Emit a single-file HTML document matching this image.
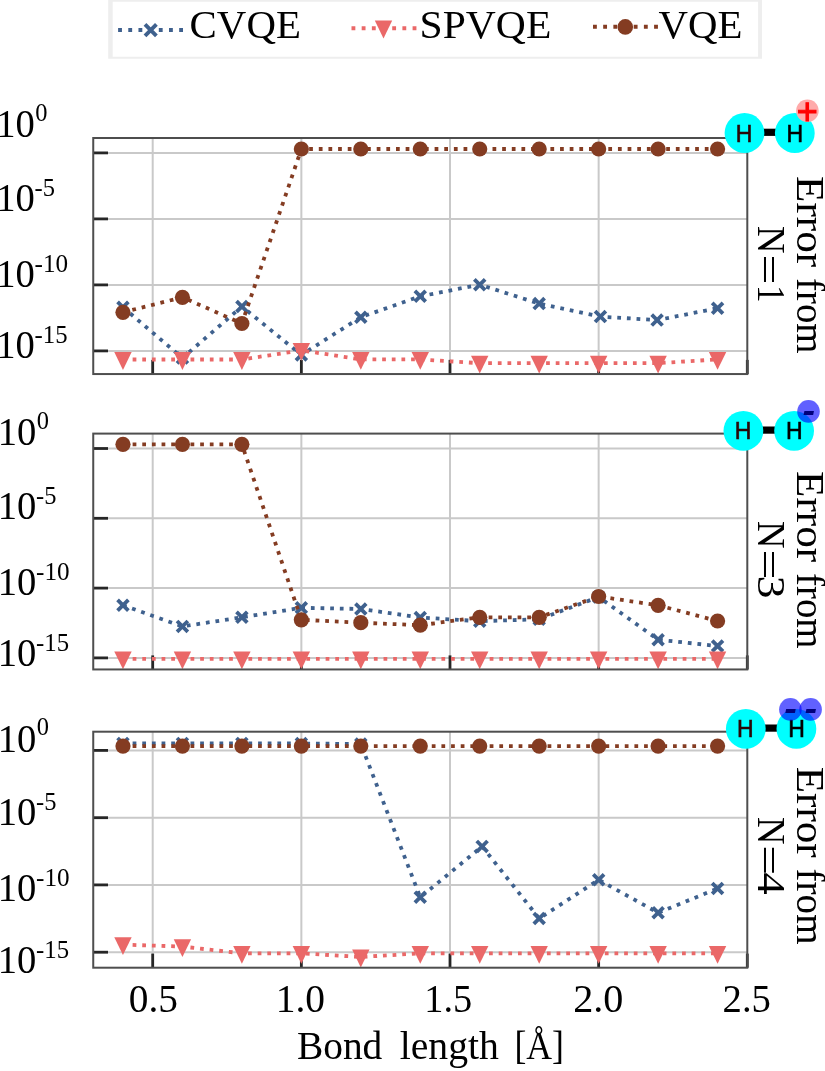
<!DOCTYPE html>
<html lang="en"><head><meta charset="utf-8"><title>Error vs bond length</title>
<style>html,body{margin:0;padding:0;background:#fff}body{width:825px;height:1071px;overflow:hidden}svg{display:block}text{font-family:"Liberation Serif", serif}.s{font-family:"Liberation Sans", sans-serif}</style>
</head><body>
<svg width="825" height="1071" viewBox="0 0 825 1071">
<rect x="0" y="0" width="825" height="1071" fill="#fff"/>
<g id="legend">
<path d="M108.2 0H762V58.8H108.2ZM112.7 1.8V56.7H758.1V1.8Z" fill="#eeeeee" fill-rule="evenodd"/>
<polyline points="118.10,30.00 183.00,30.00" fill="none" stroke="#3f618e" stroke-width="3.90" stroke-dasharray="3.85 6.33"/>
<path d="M145.00 24.40L156.40 35.80M145.00 35.80L156.40 24.40" stroke="#3f618e" stroke-width="3.90" fill="none"/>
<polyline points="351.50,28.30 417.10,28.30" fill="none" stroke="#ea6868" stroke-width="3.90" stroke-dasharray="3.85 6.33"/>
<path d="M374.80 20.60L392.20 20.60L383.50 38.40Z" fill="#ea6868"/>
<polyline points="593.00,26.80 658.50,26.80" fill="none" stroke="#843c22" stroke-width="3.90" stroke-dasharray="3.85 6.33"/>
<circle cx="625.30" cy="26.90" r="7.80" fill="#843c22"/>
<text x="189.62" y="37.90" font-size="39.6" textLength="111.25" lengthAdjust="spacingAndGlyphs">CVQE</text>
<text x="419.60" y="37.60" font-size="39.6" textLength="131.71" lengthAdjust="spacingAndGlyphs">SPVQE</text>
<text x="658.50" y="37.60" font-size="39.6" textLength="83.87" lengthAdjust="spacingAndGlyphs">VQE</text>
</g>
<g id="panel1">
<line x1="93.2" y1="152.90" x2="747.3" y2="152.90" stroke="#c9c9c9" stroke-width="2.0"/>
<line x1="93.2" y1="218.90" x2="747.3" y2="218.90" stroke="#c9c9c9" stroke-width="2.0"/>
<line x1="93.2" y1="284.90" x2="747.3" y2="284.90" stroke="#c9c9c9" stroke-width="2.0"/>
<line x1="93.2" y1="350.90" x2="747.3" y2="350.90" stroke="#c9c9c9" stroke-width="2.0"/>
<line x1="152.70" y1="138.0" x2="152.70" y2="374.1" stroke="#c9c9c9" stroke-width="2.0"/>
<line x1="301.35" y1="138.0" x2="301.35" y2="374.1" stroke="#c9c9c9" stroke-width="2.0"/>
<line x1="450.00" y1="138.0" x2="450.00" y2="374.1" stroke="#c9c9c9" stroke-width="2.0"/>
<line x1="598.65" y1="138.0" x2="598.65" y2="374.1" stroke="#c9c9c9" stroke-width="2.0"/>
<line x1="93.2" y1="152.90" x2="108.0" y2="152.90" stroke="#262626" stroke-width="2.8"/>
<line x1="93.2" y1="218.90" x2="108.0" y2="218.90" stroke="#262626" stroke-width="2.8"/>
<line x1="93.2" y1="284.90" x2="108.0" y2="284.90" stroke="#262626" stroke-width="2.8"/>
<line x1="93.2" y1="350.90" x2="108.0" y2="350.90" stroke="#262626" stroke-width="2.8"/>
<line x1="152.70" y1="374.1" x2="152.70" y2="359.9" stroke="#262626" stroke-width="2.8"/>
<line x1="301.35" y1="374.1" x2="301.35" y2="359.9" stroke="#262626" stroke-width="2.8"/>
<line x1="450.00" y1="374.1" x2="450.00" y2="359.9" stroke="#262626" stroke-width="2.8"/>
<line x1="598.65" y1="374.1" x2="598.65" y2="359.9" stroke="#262626" stroke-width="2.8"/>
<line x1="747.30" y1="374.1" x2="747.30" y2="359.9" stroke="#262626" stroke-width="2.8"/>
<polyline points="122.97,307.30 182.43,358.00 241.89,306.50 301.35,354.90 360.81,317.20 420.27,296.30 479.73,284.70 539.19,303.60 600.45,316.60 657.11,320.10 717.57,308.20" fill="none" stroke="#3f618e" stroke-width="3.80" stroke-dasharray="3.75 5.9"/>
<path d="M117.57 301.90L128.37 312.70M117.57 312.70L128.37 301.90" stroke="#3f618e" stroke-width="3.80" fill="none"/>
<path d="M177.03 352.60L187.83 363.40M177.03 363.40L187.83 352.60" stroke="#3f618e" stroke-width="3.80" fill="none"/>
<path d="M236.49 301.10L247.29 311.90M236.49 311.90L247.29 301.10" stroke="#3f618e" stroke-width="3.80" fill="none"/>
<path d="M295.95 349.50L306.75 360.30M295.95 360.30L306.75 349.50" stroke="#3f618e" stroke-width="3.80" fill="none"/>
<path d="M355.41 311.80L366.21 322.60M355.41 322.60L366.21 311.80" stroke="#3f618e" stroke-width="3.80" fill="none"/>
<path d="M414.87 290.90L425.67 301.70M414.87 301.70L425.67 290.90" stroke="#3f618e" stroke-width="3.80" fill="none"/>
<path d="M474.33 279.30L485.13 290.10M474.33 290.10L485.13 279.30" stroke="#3f618e" stroke-width="3.80" fill="none"/>
<path d="M533.79 298.20L544.59 309.00M533.79 309.00L544.59 298.20" stroke="#3f618e" stroke-width="3.80" fill="none"/>
<path d="M595.05 311.20L605.85 322.00M595.05 322.00L605.85 311.20" stroke="#3f618e" stroke-width="3.80" fill="none"/>
<path d="M651.71 314.70L662.51 325.50M651.71 325.50L662.51 314.70" stroke="#3f618e" stroke-width="3.80" fill="none"/>
<path d="M712.17 302.80L722.97 313.60M712.17 313.60L722.97 302.80" stroke="#3f618e" stroke-width="3.80" fill="none"/>
<polyline points="122.97,359.50 182.43,359.50 241.89,359.50 301.35,350.40 360.81,359.40 420.27,359.40 479.73,363.20 539.19,363.20 598.65,363.20 658.11,363.20 717.57,359.40" fill="none" stroke="#ea6868" stroke-width="3.80" stroke-dasharray="3.75 5.9"/>
<path d="M114.27 352.10L131.67 352.10L122.97 369.90Z" fill="#ea6868"/>
<path d="M173.73 352.10L191.13 352.10L182.43 369.90Z" fill="#ea6868"/>
<path d="M233.19 352.10L250.59 352.10L241.89 369.90Z" fill="#ea6868"/>
<path d="M292.65 343.00L310.05 343.00L301.35 360.80Z" fill="#ea6868"/>
<path d="M352.11 352.00L369.51 352.00L360.81 369.80Z" fill="#ea6868"/>
<path d="M411.57 352.00L428.97 352.00L420.27 369.80Z" fill="#ea6868"/>
<path d="M471.03 355.80L488.43 355.80L479.73 373.60Z" fill="#ea6868"/>
<path d="M530.49 355.80L547.89 355.80L539.19 373.60Z" fill="#ea6868"/>
<path d="M589.95 355.80L607.35 355.80L598.65 373.60Z" fill="#ea6868"/>
<path d="M649.41 355.80L666.81 355.80L658.11 373.60Z" fill="#ea6868"/>
<path d="M708.87 352.00L726.27 352.00L717.57 369.80Z" fill="#ea6868"/>
<polyline points="122.97,312.30 182.43,297.30 241.89,323.50 301.35,149.00 360.81,149.00 420.27,149.00 479.73,149.00 539.19,149.00 598.65,149.00 658.11,149.00 717.57,149.00" fill="none" stroke="#843c22" stroke-width="3.80" stroke-dasharray="3.75 5.9"/>
<circle cx="122.97" cy="312.30" r="7.60" fill="#843c22"/>
<circle cx="182.43" cy="297.30" r="7.60" fill="#843c22"/>
<circle cx="241.89" cy="323.50" r="7.60" fill="#843c22"/>
<circle cx="301.35" cy="149.00" r="7.60" fill="#843c22"/>
<circle cx="360.81" cy="149.00" r="7.60" fill="#843c22"/>
<circle cx="420.27" cy="149.00" r="7.60" fill="#843c22"/>
<circle cx="479.73" cy="149.00" r="7.60" fill="#843c22"/>
<circle cx="539.19" cy="149.00" r="7.60" fill="#843c22"/>
<circle cx="598.65" cy="149.00" r="7.60" fill="#843c22"/>
<circle cx="658.11" cy="149.00" r="7.60" fill="#843c22"/>
<circle cx="717.57" cy="149.00" r="7.60" fill="#843c22"/>
<rect x="93.24" y="138.00" width="654.06" height="236.05" fill="none" stroke="#4e4e4e" stroke-width="2.0"/>
<text x="-3.82" y="137.30" font-size="40.4" textLength="38.62" lengthAdjust="spacingAndGlyphs">10</text>
<text x="35.14" y="121.10" font-size="26.0" textLength="12.23" lengthAdjust="spacingAndGlyphs">0</text>
<text x="-3.82" y="210.70" font-size="40.4" textLength="38.62" lengthAdjust="spacingAndGlyphs">10</text>
<text x="34.53" y="195.80" font-size="26.0" textLength="20.43" lengthAdjust="spacingAndGlyphs">-5</text>
<text x="-3.82" y="286.50" font-size="40.4" textLength="38.62" lengthAdjust="spacingAndGlyphs">10</text>
<text x="34.51" y="271.60" font-size="26.0" textLength="33.57" lengthAdjust="spacingAndGlyphs">-10</text>
<text x="-3.82" y="358.10" font-size="40.4" textLength="38.62" lengthAdjust="spacingAndGlyphs">10</text>
<text x="34.53" y="343.20" font-size="26.0" textLength="33.05" lengthAdjust="spacingAndGlyphs">-15</text>
<text transform="translate(797.0 176.70) rotate(90)" y="0" font-size="39.6"><tspan x="-0.67" textLength="91.09" lengthAdjust="spacingAndGlyphs">Error</tspan> <tspan x="101.29" textLength="75.58" lengthAdjust="spacingAndGlyphs">from</tspan></text>
<text transform="translate(758.4 226.70) rotate(90)" y="0" font-size="39.6"><tspan x="-0.60" textLength="27.73" lengthAdjust="spacingAndGlyphs">N</tspan><tspan x="27.48" dy="3.8" textLength="30.32" lengthAdjust="spacingAndGlyphs">=</tspan><tspan x="58.23" dy="-3.8" textLength="17.73" lengthAdjust="spacingAndGlyphs">1</tspan></text>
</g>
<g id="panel2">
<line x1="93.2" y1="448.50" x2="747.3" y2="448.50" stroke="#c9c9c9" stroke-width="2.0"/>
<line x1="93.2" y1="518.30" x2="747.3" y2="518.30" stroke="#c9c9c9" stroke-width="2.0"/>
<line x1="93.2" y1="588.10" x2="747.3" y2="588.10" stroke="#c9c9c9" stroke-width="2.0"/>
<line x1="93.2" y1="657.90" x2="747.3" y2="657.90" stroke="#c9c9c9" stroke-width="2.0"/>
<line x1="152.70" y1="433.6" x2="152.70" y2="669.5" stroke="#c9c9c9" stroke-width="2.0"/>
<line x1="301.35" y1="433.6" x2="301.35" y2="669.5" stroke="#c9c9c9" stroke-width="2.0"/>
<line x1="450.00" y1="433.6" x2="450.00" y2="669.5" stroke="#c9c9c9" stroke-width="2.0"/>
<line x1="598.65" y1="433.6" x2="598.65" y2="669.5" stroke="#c9c9c9" stroke-width="2.0"/>
<line x1="93.2" y1="448.50" x2="108.0" y2="448.50" stroke="#262626" stroke-width="2.8"/>
<line x1="93.2" y1="518.30" x2="108.0" y2="518.30" stroke="#262626" stroke-width="2.8"/>
<line x1="93.2" y1="588.10" x2="108.0" y2="588.10" stroke="#262626" stroke-width="2.8"/>
<line x1="93.2" y1="657.90" x2="108.0" y2="657.90" stroke="#262626" stroke-width="2.8"/>
<line x1="152.70" y1="669.5" x2="152.70" y2="655.4" stroke="#262626" stroke-width="2.8"/>
<line x1="301.35" y1="669.5" x2="301.35" y2="655.4" stroke="#262626" stroke-width="2.8"/>
<line x1="450.00" y1="669.5" x2="450.00" y2="655.4" stroke="#262626" stroke-width="2.8"/>
<line x1="598.65" y1="669.5" x2="598.65" y2="655.4" stroke="#262626" stroke-width="2.8"/>
<line x1="747.30" y1="669.5" x2="747.30" y2="655.4" stroke="#262626" stroke-width="2.8"/>
<polyline points="122.97,605.30 182.43,626.40 241.89,617.30 301.35,607.80 360.81,609.00 420.27,617.50 479.73,621.20 539.19,619.30 598.65,597.00 658.11,639.70 717.57,646.00" fill="none" stroke="#3f618e" stroke-width="3.80" stroke-dasharray="3.75 5.9"/>
<path d="M117.57 599.90L128.37 610.70M117.57 610.70L128.37 599.90" stroke="#3f618e" stroke-width="3.80" fill="none"/>
<path d="M177.03 621.00L187.83 631.80M177.03 631.80L187.83 621.00" stroke="#3f618e" stroke-width="3.80" fill="none"/>
<path d="M236.49 611.90L247.29 622.70M236.49 622.70L247.29 611.90" stroke="#3f618e" stroke-width="3.80" fill="none"/>
<path d="M295.95 602.40L306.75 613.20M295.95 613.20L306.75 602.40" stroke="#3f618e" stroke-width="3.80" fill="none"/>
<path d="M355.41 603.60L366.21 614.40M355.41 614.40L366.21 603.60" stroke="#3f618e" stroke-width="3.80" fill="none"/>
<path d="M414.87 612.10L425.67 622.90M414.87 622.90L425.67 612.10" stroke="#3f618e" stroke-width="3.80" fill="none"/>
<path d="M474.33 615.80L485.13 626.60M474.33 626.60L485.13 615.80" stroke="#3f618e" stroke-width="3.80" fill="none"/>
<path d="M533.79 613.90L544.59 624.70M533.79 624.70L544.59 613.90" stroke="#3f618e" stroke-width="3.80" fill="none"/>
<path d="M593.25 591.60L604.05 602.40M593.25 602.40L604.05 591.60" stroke="#3f618e" stroke-width="3.80" fill="none"/>
<path d="M652.71 634.30L663.51 645.10M652.71 645.10L663.51 634.30" stroke="#3f618e" stroke-width="3.80" fill="none"/>
<path d="M712.17 640.60L722.97 651.40M712.17 651.40L722.97 640.60" stroke="#3f618e" stroke-width="3.80" fill="none"/>
<polyline points="122.97,658.90 182.43,658.90 241.89,658.90 301.35,658.90 360.81,658.90 420.27,658.90 479.73,658.90 539.19,658.90 598.65,658.90 658.11,658.90 717.57,658.90" fill="none" stroke="#ea6868" stroke-width="3.80" stroke-dasharray="3.75 5.9"/>
<path d="M114.27 651.50L131.67 651.50L122.97 669.30Z" fill="#ea6868"/>
<path d="M173.73 651.50L191.13 651.50L182.43 669.30Z" fill="#ea6868"/>
<path d="M233.19 651.50L250.59 651.50L241.89 669.30Z" fill="#ea6868"/>
<path d="M292.65 651.50L310.05 651.50L301.35 669.30Z" fill="#ea6868"/>
<path d="M352.11 651.50L369.51 651.50L360.81 669.30Z" fill="#ea6868"/>
<path d="M411.57 651.50L428.97 651.50L420.27 669.30Z" fill="#ea6868"/>
<path d="M471.03 651.50L488.43 651.50L479.73 669.30Z" fill="#ea6868"/>
<path d="M530.49 651.50L547.89 651.50L539.19 669.30Z" fill="#ea6868"/>
<path d="M589.95 651.50L607.35 651.50L598.65 669.30Z" fill="#ea6868"/>
<path d="M649.41 651.50L666.81 651.50L658.11 669.30Z" fill="#ea6868"/>
<path d="M708.87 651.50L726.27 651.50L717.57 669.30Z" fill="#ea6868"/>
<polyline points="122.97,444.30 182.43,444.30 241.89,444.30 301.35,619.80 360.81,622.70 420.27,625.20 479.73,617.30 539.19,617.30 598.65,596.50 658.11,605.30 717.57,621.00" fill="none" stroke="#843c22" stroke-width="3.80" stroke-dasharray="3.75 5.9"/>
<circle cx="122.97" cy="444.30" r="7.60" fill="#843c22"/>
<circle cx="182.43" cy="444.30" r="7.60" fill="#843c22"/>
<circle cx="241.89" cy="444.30" r="7.60" fill="#843c22"/>
<circle cx="301.35" cy="619.80" r="7.60" fill="#843c22"/>
<circle cx="360.81" cy="622.70" r="7.60" fill="#843c22"/>
<circle cx="420.27" cy="625.20" r="7.60" fill="#843c22"/>
<circle cx="479.73" cy="617.30" r="7.60" fill="#843c22"/>
<circle cx="539.19" cy="617.30" r="7.60" fill="#843c22"/>
<circle cx="598.65" cy="596.50" r="7.60" fill="#843c22"/>
<circle cx="658.11" cy="605.30" r="7.60" fill="#843c22"/>
<circle cx="717.57" cy="621.00" r="7.60" fill="#843c22"/>
<rect x="93.24" y="433.60" width="654.06" height="235.85" fill="none" stroke="#4e4e4e" stroke-width="2.0"/>
<text x="-2.32" y="445.30" font-size="40.4" textLength="38.62" lengthAdjust="spacingAndGlyphs">10</text>
<text x="36.64" y="429.10" font-size="26.0" textLength="12.23" lengthAdjust="spacingAndGlyphs">0</text>
<text x="-2.32" y="519.00" font-size="40.4" textLength="38.62" lengthAdjust="spacingAndGlyphs">10</text>
<text x="36.03" y="504.10" font-size="26.0" textLength="20.43" lengthAdjust="spacingAndGlyphs">-5</text>
<text x="-2.32" y="594.80" font-size="40.4" textLength="38.62" lengthAdjust="spacingAndGlyphs">10</text>
<text x="36.01" y="579.90" font-size="26.0" textLength="33.57" lengthAdjust="spacingAndGlyphs">-10</text>
<text x="-2.32" y="666.30" font-size="40.4" textLength="38.62" lengthAdjust="spacingAndGlyphs">10</text>
<text x="36.03" y="651.40" font-size="26.0" textLength="33.05" lengthAdjust="spacingAndGlyphs">-15</text>
<text transform="translate(797.0 471.70) rotate(90)" y="0" font-size="39.6"><tspan x="-0.67" textLength="91.09" lengthAdjust="spacingAndGlyphs">Error</tspan> <tspan x="101.29" textLength="75.58" lengthAdjust="spacingAndGlyphs">from</tspan></text>
<text transform="translate(758.4 521.70) rotate(90)" y="0" font-size="39.6"><tspan x="-0.60" textLength="27.73" lengthAdjust="spacingAndGlyphs">N</tspan><tspan x="27.48" dy="3.8" textLength="30.32" lengthAdjust="spacingAndGlyphs">=</tspan><tspan x="53.83" dy="-3.8" textLength="23.11" lengthAdjust="spacingAndGlyphs">3</tspan></text>
</g>
<g id="panel3">
<line x1="93.2" y1="750.40" x2="747.3" y2="750.40" stroke="#c9c9c9" stroke-width="2.0"/>
<line x1="93.2" y1="817.70" x2="747.3" y2="817.70" stroke="#c9c9c9" stroke-width="2.0"/>
<line x1="93.2" y1="884.90" x2="747.3" y2="884.90" stroke="#c9c9c9" stroke-width="2.0"/>
<line x1="93.2" y1="952.20" x2="747.3" y2="952.20" stroke="#c9c9c9" stroke-width="2.0"/>
<line x1="152.70" y1="731.7" x2="152.70" y2="967.7" stroke="#c9c9c9" stroke-width="2.0"/>
<line x1="301.35" y1="731.7" x2="301.35" y2="967.7" stroke="#c9c9c9" stroke-width="2.0"/>
<line x1="450.00" y1="731.7" x2="450.00" y2="967.7" stroke="#c9c9c9" stroke-width="2.0"/>
<line x1="598.65" y1="731.7" x2="598.65" y2="967.7" stroke="#c9c9c9" stroke-width="2.0"/>
<line x1="93.2" y1="750.40" x2="108.0" y2="750.40" stroke="#262626" stroke-width="2.8"/>
<line x1="93.2" y1="817.70" x2="108.0" y2="817.70" stroke="#262626" stroke-width="2.8"/>
<line x1="93.2" y1="884.90" x2="108.0" y2="884.90" stroke="#262626" stroke-width="2.8"/>
<line x1="93.2" y1="952.20" x2="108.0" y2="952.20" stroke="#262626" stroke-width="2.8"/>
<line x1="152.70" y1="967.7" x2="152.70" y2="953.6" stroke="#262626" stroke-width="2.8"/>
<line x1="301.35" y1="967.7" x2="301.35" y2="953.6" stroke="#262626" stroke-width="2.8"/>
<line x1="450.00" y1="967.7" x2="450.00" y2="953.6" stroke="#262626" stroke-width="2.8"/>
<line x1="598.65" y1="967.7" x2="598.65" y2="953.6" stroke="#262626" stroke-width="2.8"/>
<line x1="747.30" y1="967.7" x2="747.30" y2="953.6" stroke="#262626" stroke-width="2.8"/>
<polyline points="122.97,743.40 182.43,743.40 241.89,743.40 301.35,743.50 360.81,744.00 420.27,897.30 482.13,846.40 539.19,918.50 598.65,879.80 658.11,912.80 717.57,888.50" fill="none" stroke="#3f618e" stroke-width="3.80" stroke-dasharray="3.75 5.9"/>
<path d="M117.57 738.00L128.37 748.80M117.57 748.80L128.37 738.00" stroke="#3f618e" stroke-width="3.80" fill="none"/>
<path d="M177.03 738.00L187.83 748.80M177.03 748.80L187.83 738.00" stroke="#3f618e" stroke-width="3.80" fill="none"/>
<path d="M236.49 738.00L247.29 748.80M236.49 748.80L247.29 738.00" stroke="#3f618e" stroke-width="3.80" fill="none"/>
<path d="M295.95 738.10L306.75 748.90M295.95 748.90L306.75 738.10" stroke="#3f618e" stroke-width="3.80" fill="none"/>
<path d="M355.41 738.60L366.21 749.40M355.41 749.40L366.21 738.60" stroke="#3f618e" stroke-width="3.80" fill="none"/>
<path d="M414.87 891.90L425.67 902.70M414.87 902.70L425.67 891.90" stroke="#3f618e" stroke-width="3.80" fill="none"/>
<path d="M476.73 841.00L487.53 851.80M476.73 851.80L487.53 841.00" stroke="#3f618e" stroke-width="3.80" fill="none"/>
<path d="M533.79 913.10L544.59 923.90M533.79 923.90L544.59 913.10" stroke="#3f618e" stroke-width="3.80" fill="none"/>
<path d="M593.25 874.40L604.05 885.20M593.25 885.20L604.05 874.40" stroke="#3f618e" stroke-width="3.80" fill="none"/>
<path d="M652.71 907.40L663.51 918.20M652.71 918.20L663.51 907.40" stroke="#3f618e" stroke-width="3.80" fill="none"/>
<path d="M712.17 883.10L722.97 893.90M712.17 893.90L722.97 883.10" stroke="#3f618e" stroke-width="3.80" fill="none"/>
<polyline points="122.97,944.60 182.43,946.60 241.89,953.30 301.35,953.30 360.81,957.00 420.27,953.30 479.73,953.30 539.19,953.30 598.65,953.30 658.11,953.30 717.57,953.30" fill="none" stroke="#ea6868" stroke-width="3.80" stroke-dasharray="3.75 5.9"/>
<path d="M114.27 937.20L131.67 937.20L122.97 955.00Z" fill="#ea6868"/>
<path d="M173.73 939.20L191.13 939.20L182.43 957.00Z" fill="#ea6868"/>
<path d="M233.19 945.90L250.59 945.90L241.89 963.70Z" fill="#ea6868"/>
<path d="M292.65 945.90L310.05 945.90L301.35 963.70Z" fill="#ea6868"/>
<path d="M352.11 949.60L369.51 949.60L360.81 967.40Z" fill="#ea6868"/>
<path d="M411.57 945.90L428.97 945.90L420.27 963.70Z" fill="#ea6868"/>
<path d="M471.03 945.90L488.43 945.90L479.73 963.70Z" fill="#ea6868"/>
<path d="M530.49 945.90L547.89 945.90L539.19 963.70Z" fill="#ea6868"/>
<path d="M589.95 945.90L607.35 945.90L598.65 963.70Z" fill="#ea6868"/>
<path d="M649.41 945.90L666.81 945.90L658.11 963.70Z" fill="#ea6868"/>
<path d="M708.87 945.90L726.27 945.90L717.57 963.70Z" fill="#ea6868"/>
<polyline points="122.97,746.10 182.43,746.10 241.89,746.10 301.35,746.10 360.81,746.10 420.27,746.10 479.73,746.10 539.19,746.10 598.65,746.10 658.11,746.10 717.57,746.10" fill="none" stroke="#843c22" stroke-width="3.80" stroke-dasharray="3.75 5.9"/>
<circle cx="122.97" cy="746.10" r="7.60" fill="#843c22"/>
<circle cx="182.43" cy="746.10" r="7.60" fill="#843c22"/>
<circle cx="241.89" cy="746.10" r="7.60" fill="#843c22"/>
<circle cx="301.35" cy="746.10" r="7.60" fill="#843c22"/>
<circle cx="360.81" cy="746.10" r="7.60" fill="#843c22"/>
<circle cx="420.27" cy="746.10" r="7.60" fill="#843c22"/>
<circle cx="479.73" cy="746.10" r="7.60" fill="#843c22"/>
<circle cx="539.19" cy="746.10" r="7.60" fill="#843c22"/>
<circle cx="598.65" cy="746.10" r="7.60" fill="#843c22"/>
<circle cx="658.11" cy="746.10" r="7.60" fill="#843c22"/>
<circle cx="717.57" cy="746.10" r="7.60" fill="#843c22"/>
<rect x="93.24" y="731.70" width="654.06" height="236.00" fill="none" stroke="#4e4e4e" stroke-width="2.0"/>
<text x="-2.32" y="751.50" font-size="40.4" textLength="38.62" lengthAdjust="spacingAndGlyphs">10</text>
<text x="36.64" y="735.30" font-size="26.0" textLength="12.23" lengthAdjust="spacingAndGlyphs">0</text>
<text x="-2.32" y="825.30" font-size="40.4" textLength="38.62" lengthAdjust="spacingAndGlyphs">10</text>
<text x="36.03" y="810.40" font-size="26.0" textLength="20.43" lengthAdjust="spacingAndGlyphs">-5</text>
<text x="-2.32" y="901.10" font-size="40.4" textLength="38.62" lengthAdjust="spacingAndGlyphs">10</text>
<text x="36.01" y="886.20" font-size="26.0" textLength="33.57" lengthAdjust="spacingAndGlyphs">-10</text>
<text x="-2.32" y="972.70" font-size="40.4" textLength="38.62" lengthAdjust="spacingAndGlyphs">10</text>
<text x="36.03" y="957.80" font-size="26.0" textLength="33.05" lengthAdjust="spacingAndGlyphs">-15</text>
<text transform="translate(797.0 767.30) rotate(90)" y="0" font-size="39.6"><tspan x="-0.67" textLength="91.09" lengthAdjust="spacingAndGlyphs">Error</tspan> <tspan x="101.29" textLength="75.99" lengthAdjust="spacingAndGlyphs">from</tspan></text>
<text transform="translate(758.4 817.60) rotate(90)" y="0" font-size="39.6"><tspan x="-0.60" textLength="27.73" lengthAdjust="spacingAndGlyphs">N</tspan><tspan x="27.48" dy="3.8" textLength="30.32" lengthAdjust="spacingAndGlyphs">=</tspan><tspan x="54.90" dy="-3.8" textLength="22.29" lengthAdjust="spacingAndGlyphs">4</tspan></text>
</g>
<g id="xaxis">
<text x="128.77" y="1012.00" font-size="39.6" textLength="49.16" lengthAdjust="spacingAndGlyphs">0.5</text>
<text x="275.72" y="1012.00" font-size="39.6" textLength="49.32" lengthAdjust="spacingAndGlyphs">1.0</text>
<text x="424.31" y="1012.00" font-size="39.6" textLength="47.89" lengthAdjust="spacingAndGlyphs">1.5</text>
<text x="573.24" y="1012.00" font-size="39.6" textLength="50.21" lengthAdjust="spacingAndGlyphs">2.0</text>
<text x="722.59" y="1012.00" font-size="39.6" textLength="48.32" lengthAdjust="spacingAndGlyphs">2.5</text>
<text y="1058.9" font-size="39.6"><tspan x="296.88" textLength="85.42" lengthAdjust="spacingAndGlyphs">Bond</tspan> <tspan x="399.68" textLength="99.22" lengthAdjust="spacingAndGlyphs">length</tspan> <tspan x="514.47" textLength="49.53" lengthAdjust="spacingAndGlyphs">[Å]</tspan></text>
</g>
<g>
<rect x="744.5" y="128.7" width="50.3" height="7.2" fill="#000"/>
<circle cx="744.5" cy="133.0" r="19.9" fill="#00ffff"/>
<circle cx="794.8" cy="133.0" r="19.9" fill="#00ffff"/>
<text class="s" x="744.1" y="141.7" font-size="23" text-anchor="middle" fill="#2a0808" stroke="#2a0808" stroke-width="0.6">H</text>
<text class="s" x="794.9" y="141.7" font-size="23" text-anchor="middle" fill="#000" stroke="#000" stroke-width="0.6">H</text>
<circle cx="807.4" cy="110.7" r="11.3" fill="#ffaaaa"/>
<text class="s" x="807.2" y="123.5" font-size="36" text-anchor="middle" fill="#ff0000" stroke="#ff0000" stroke-width="1">+</text>
</g>
<g>
<rect x="743.4" y="426.5" width="50.7" height="7.2" fill="#000"/>
<circle cx="743.4" cy="430.8" r="19.9" fill="#00ffff"/>
<circle cx="794.1" cy="430.8" r="19.9" fill="#00ffff"/>
<text class="s" x="743.0" y="439.2" font-size="23" text-anchor="middle" fill="#2a0808" stroke="#2a0808" stroke-width="0.6">H</text>
<text class="s" x="794.2" y="439.2" font-size="23" text-anchor="middle" fill="#000" stroke="#000" stroke-width="0.6">H</text>
<circle cx="808.5" cy="411.4" r="11.3" fill="#0000ff" fill-opacity="0.62"/>
<text class="s" x="802.40" y="421.6" font-size="33" font-weight="bold" font-style="italic" textLength="12.6" lengthAdjust="spacingAndGlyphs" fill="#00007c">-</text>
</g>
<g>
<rect x="745.8" y="724.5" width="50.6" height="7.2" fill="#000"/>
<circle cx="745.8" cy="728.8" r="19.9" fill="#00ffff"/>
<circle cx="796.4" cy="728.8" r="19.9" fill="#00ffff"/>
<text class="s" x="745.4" y="737.2" font-size="23" text-anchor="middle" fill="#2a0808" stroke="#2a0808" stroke-width="0.6">H</text>
<text class="s" x="796.5" y="737.2" font-size="23" text-anchor="middle" fill="#000" stroke="#000" stroke-width="0.6">H</text>
<circle cx="790.4" cy="709.4" r="11.3" fill="#0000ff" fill-opacity="0.62"/>
<text class="s" x="784.30" y="719.6" font-size="33" font-weight="bold" font-style="italic" textLength="12.6" lengthAdjust="spacingAndGlyphs" fill="#00007c">-</text>
<circle cx="810.6" cy="709.4" r="11.3" fill="#0000ff" fill-opacity="0.62"/>
<text class="s" x="804.50" y="719.6" font-size="33" font-weight="bold" font-style="italic" textLength="12.6" lengthAdjust="spacingAndGlyphs" fill="#00007c">-</text>
</g>
</svg>
</body></html>
